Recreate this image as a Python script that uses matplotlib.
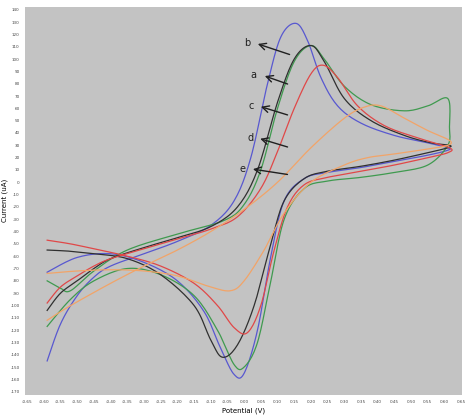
import numpy as np
import matplotlib
matplotlib.use('Agg')
import matplotlib.pyplot as plt

# each loop: forward (anodic) branch then reverse branch, (E [V], I [uA])
blue = [(-0.59, -145), (-0.55, -115), (-0.5, -92), (-0.45, -77), (-0.4, -68), (-0.3, -58), (-0.2, -48),
        (-0.1, -35), (-0.03, -15), (0.02, 20), (0.07, 80), (0.11, 118), (0.155, 129), (0.19, 115), (0.23, 85),
        (0.28, 62), (0.35, 48), (0.45, 38), (0.55, 32), (0.61, 28),
        (0.61, 26), (0.55, 22), (0.45, 17), (0.35, 12), (0.25, 8), (0.18, 3), (0.12, -15), (0.08, -60),
        (0.04, -120), (0.0, -155), (-0.03, -156), (-0.07, -135), (-0.12, -105), (-0.2, -80), (-0.3, -65),
        (-0.4, -58), (-0.5, -61), (-0.59, -73)]
green = [(-0.59, -80), (-0.55, -86), (-0.52, -88), (-0.45, -72), (-0.35, -55), (-0.2, -42), (-0.06, -31),
         (0.0, -18), (0.05, 10), (0.1, 60), (0.15, 98), (0.2, 111), (0.24, 100), (0.3, 78), (0.38, 63),
         (0.48, 58), (0.55, 62), (0.61, 68), (0.615, 45), (0.61, 30),
         (0.55, 14), (0.45, 8), (0.35, 4), (0.25, 1), (0.18, -5), (0.12, -30), (0.08, -80), (0.04, -130),
         (0.0, -150), (-0.03, -148), (-0.08, -120), (-0.15, -92), (-0.25, -75), (-0.35, -70), (-0.45, -80),
         (-0.52, -95), (-0.59, -117)]
black = [(-0.59, -104), (-0.55, -90), (-0.5, -80), (-0.45, -70), (-0.4, -62), (-0.3, -53), (-0.2, -45),
         (-0.1, -36), (-0.02, -20), (0.04, 10), (0.1, 65), (0.15, 100), (0.2, 111), (0.24, 98), (0.3, 68),
         (0.38, 50), (0.48, 38), (0.56, 32), (0.615, 30),
         (0.61, 28), (0.55, 24), (0.45, 18), (0.35, 13), (0.25, 9), (0.18, 3), (0.12, -15), (0.08, -50),
         (0.03, -100), (-0.02, -132), (-0.065, -142), (-0.1, -128), (-0.15, -100), (-0.25, -75),
         (-0.35, -62), (-0.45, -58), (-0.52, -56), (-0.59, -55)]
red = [(-0.59, -98), (-0.55, -85), (-0.5, -76), (-0.45, -68), (-0.4, -62), (-0.3, -54), (-0.2, -46),
       (-0.1, -38), (-0.02, -28), (0.05, -5), (0.1, 25), (0.15, 60), (0.2, 88), (0.237, 95), (0.28, 85),
       (0.34, 62), (0.42, 46), (0.52, 36), (0.615, 28),
       (0.61, 24), (0.55, 20), (0.45, 14), (0.35, 9), (0.25, 4), (0.18, -2), (0.13, -20), (0.09, -55),
       (0.05, -100), (0.01, -122), (-0.03, -118), (-0.08, -100), (-0.15, -82), (-0.25, -68),
       (-0.35, -60), (-0.45, -54), (-0.52, -50), (-0.59, -47)]
orange = [(-0.59, -112), (-0.55, -105), (-0.5, -97), (-0.4, -82), (-0.3, -68), (-0.2, -55), (-0.1, -40),
          (0.0, -22), (0.1, 0), (0.2, 28), (0.3, 52), (0.36, 61), (0.41, 62), (0.48, 52), (0.55, 42),
          (0.615, 34),
          (0.61, 30), (0.55, 27), (0.45, 23), (0.37, 20), (0.3, 14), (0.2, 0), (0.12, -25), (0.06, -55),
          (0.0, -80), (-0.04, -88), (-0.1, -85), (-0.2, -76), (-0.3, -72), (-0.4, -71), (-0.5, -72),
          (-0.59, -74)]

curves = [(blue, '#5858d0'), (green, '#3f9a4f'), (black, '#303030'), (red, '#e04848'), (orange, '#f2a468')]

labels = ['b', 'a', 'c', 'd', 'e']
label_xy = [(0.018, 113), (0.036, 87), (0.03, 62), (0.027, 36), (0.003, 11)]
arrow_tail = [(0.144, 103), (0.138, 79), (0.138, 54), (0.138, 28), (0.138, 6)]
arrow_head = [(0.033, 113), (0.054, 87), (0.042, 62), (0.04, 36), (0.018, 11)]


def smooth(pts, n=12):
    # catmull-rom through the read points
    p = np.array(pts, dtype=float)
    p = np.vstack([p[0], p, p[-1]])
    out = []
    for i in range(1, len(p) - 2):
        p0, p1, p2, p3 = p[i - 1], p[i], p[i + 1], p[i + 2]
        for t in np.linspace(0, 1, n, endpoint=False):
            out.append(0.5 * ((2 * p1) + (-p0 + p2) * t + (2 * p0 - 5 * p1 + 4 * p2 - p3) * t ** 2
                              + (-p0 + 3 * p1 - 3 * p2 + p3) * t ** 3))
    out.append(p[-2])
    return np.array(out)


fig = plt.figure(figsize=(4.74, 4.2), dpi=100)
ax = fig.add_axes([0.053, 0.06, 0.922, 0.924])
ax.set_facecolor('#c3c3c3')

for pts, col in curves:
    s = smooth(pts)
    ax.plot(s[:, 0], s[:, 1], color=col, lw=0.9)

for lab, txy, tail, head in zip(labels, label_xy, arrow_tail, arrow_head):
    ax.annotate('', xy=head, xytext=tail,
                arrowprops=dict(arrowstyle='->', color='#202020', lw=1.0, mutation_scale=12))
    ax.text(txy[0], txy[1], lab, fontsize=7, ha='right', va='center', color='#202020')

ax.set_xlim(-0.656, 0.653)
ax.set_ylim(-172.5, 142.5)
xt = np.round(np.arange(-0.65, 0.651, 0.05), 2)
ax.set_xticks(xt)
ax.set_xticklabels(['%.2f' % v for v in xt], fontsize=3, color='#444444')
yt = np.arange(-170, 141, 10)
ax.set_yticks(yt)
ax.set_yticklabels([str(v) for v in yt], fontsize=3, color='#444444')
ax.tick_params(length=0, pad=4)
for sp in ax.spines.values():
    sp.set_visible(False)
ax.set_xlabel('Potential (V)', fontsize=5, labelpad=2)
ax.set_ylabel('Current (uA)', fontsize=5, labelpad=2)

fig.savefig('out.png', dpi=100)
